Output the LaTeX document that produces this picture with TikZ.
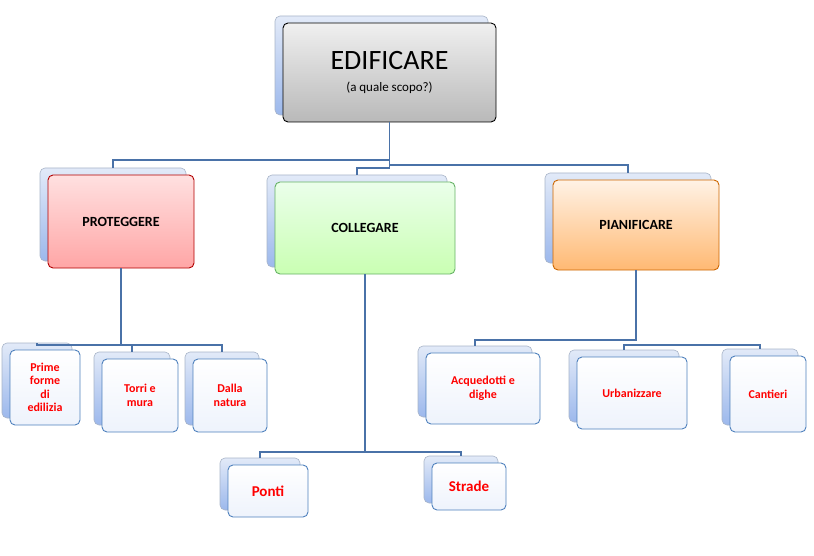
\documentclass[tikz,border=0pt]{standalone}
\usepackage{fontspec}
\setmainfont{Carlito}
\begin{document}
\begin{tikzpicture}[x=1pt,y=-1pt,
  conn/.style={draw=linkblue,line width=1.6pt},
  back/.style={draw=backedge,line width=0.6pt,rounded corners=5pt,top color=backtop,bottom color=backbot,inner sep=0pt},
  front/.style={draw=frontedge,line width=0.9pt,rounded corners=5pt,top color=white,bottom color=frontbot,inner sep=0pt,align=center,text=red,font=\bfseries\fontsize{12}{13.5}\selectfont},
]
\definecolor{linkblue}{HTML}{4A72A8}
\definecolor{backedge}{HTML}{A8B4C8}
\definecolor{backtop}{HTML}{E2EAF8}
\definecolor{backbot}{HTML}{9CB8EC}
\definecolor{frontedge}{HTML}{4F81BD}
\definecolor{frontbot}{HTML}{EEF3FC}
\useasboundingbox (0,0) rectangle (814,556);
\newcommand{\card}[7]{%
  \node[back,minimum width=#4,minimum height=#5] (#1b) at (#2-8,#3-7) {};
  \node[front,minimum width=#4,minimum height=#5,#6] (#1) at (#2,#3) {#7};}
% top
\card{edi}{389.5}{72.5}{213}{99}{draw=black,top color=gray!12,bottom color=gray!55,text=black,font=\normalfont}{{\fontsize{28}{30}\selectfont EDIFICARE}\\[10pt]{\fontsize{13}{15}\selectfont (a quale scopo?)}}
\card{prot}{121}{221.5}{146}{93}{draw=red!70!black,top color=red!12,bottom color=red!35,text=black,font=\bfseries\fontsize{14}{16}\selectfont}{PROTEGGERE}
\card{coll}{365}{228}{180}{92}{draw=green!50!black!60,top color=green!8,bottom color=green!70!yellow!30,text=black,font=\bfseries\fontsize{14}{16}\selectfont}{COLLEGARE}
\card{pian}{636}{225}{166}{90}{draw=orange!80!black,top color=orange!10,bottom color=orange!55,text=black,font=\bfseries\fontsize{14}{16}\selectfont}{PIANIFICARE}
% leaves
\card{prim}{45}{387.5}{70}{75}{}{Prime\\forme\\di\\edilizia}
\card{torr}{140}{395.5}{76}{73}{}{Torri e\\mura}
\card{dall}{230}{395.5}{74}{73}{}{Dalla\\natura}
\card{pont}{268}{491}{80}{52}{font=\bfseries\fontsize{15}{17}\selectfont}{Ponti}
\card{stra}{469}{486.5}{74}{47}{font=\bfseries\fontsize{15}{17}\selectfont}{Strade}
\card{acqu}{483}{388.5}{114}{71}{}{Acquedotti e\\dighe}
\card{urba}{632}{393}{110}{72}{}{Urbanizzare}
\card{cant}{768}{394}{76}{76}{}{Cantieri}
% connectors
\draw[conn] (edi.south) -- (edi.south |- 0,160) -| (protb.north);
\draw[conn] (edi.south) -- (edi.south |- 0,168) -| (collb.north);
\draw[conn] (edi.south |- 0,165) -| (pianb.north);
\draw[conn] (prot.south) -- (prot.south |- 0,345) -| (primb.north);
\draw[conn] (prot.south |- 0,345) -| (torrb.north);
\draw[conn] (prot.south |- 0,345) -| (dallb.north);
\draw[conn] (coll.south) -- (coll.south |- 0,452) -| (pontb.north);
\draw[conn] (coll.south |- 0,452) -| (strab.north);
\draw[conn] (pian.south) -- (pian.south |- 0,340) -| (acqub.north);
\draw[conn] (pian.south |- 0,345) -| (urbab.north);
\draw[conn] (pian.south |- 0,345) -| (cantb.north);
\end{tikzpicture}
\end{document}
